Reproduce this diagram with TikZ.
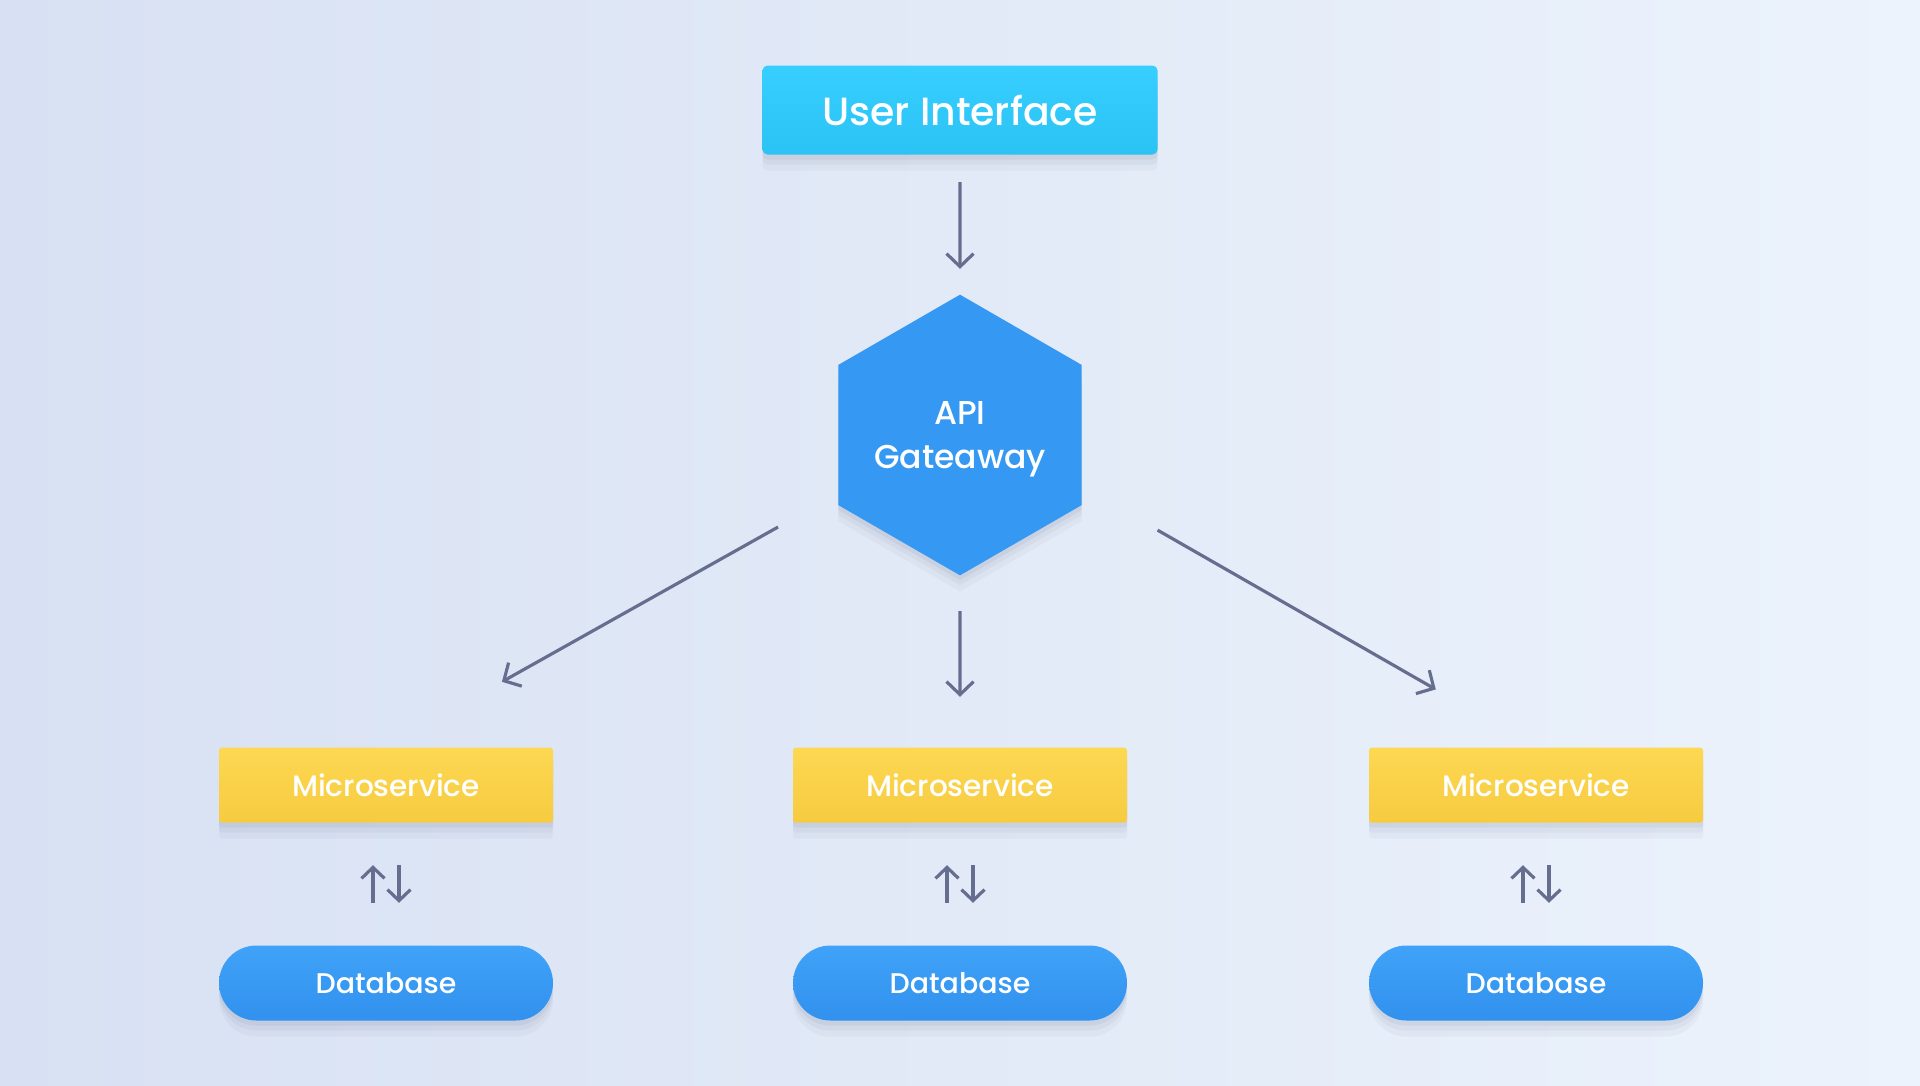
\documentclass[tikz,border=0pt]{standalone}
\usepackage{fontspec}
\setmainfont{Poppins}[UprightFont=* Medium]
\usepackage{xcolor}
\usetikzlibrary{positioning, arrows.meta, shapes.geometric, shadows, calc}

\definecolor{bgleft}{HTML}{D8E1F3}
\definecolor{bgright}{HTML}{ECF3FC}
\definecolor{uitop}{HTML}{36CFFF}
\definecolor{uibottom}{HTML}{2BC2F4}
\definecolor{hexblue}{HTML}{3598F2}
\definecolor{mstop}{HTML}{FDD852}
\definecolor{msbottom}{HTML}{F6CB40}
\definecolor{dbtop}{HTML}{40A2F8}
\definecolor{dbbottom}{HTML}{3191EE}
\definecolor{linkgray}{HTML}{666E8F}
\definecolor{shadowgray}{HTML}{5A6480}

\begin{document}
\begin{tikzpicture}[>={Straight Barb[length=1.3mm, width=2.7mm]}, node distance=3.25cm]
    \tikzstyle{softshadow}=[general shadow={fill=shadowgray, opacity=0.05, shadow yshift=-0.16cm},
                            general shadow={fill=shadowgray, opacity=0.06, shadow yshift=-0.1cm},
                            general shadow={fill=shadowgray, opacity=0.08, shadow yshift=-0.05cm}]
    \tikzstyle{uibox}=[rectangle, softshadow, rounded corners=0.05cm, minimum width=3.95cm, minimum height=0.89cm,
                       top color=uitop, bottom color=uibottom, text=white, font=\fontsize{11.2}{14}\selectfont]
    \tikzstyle{hexnode}=[regular polygon, regular polygon sides=6, regular polygon rotate=30, softshadow,
                         minimum size=2.74cm, inner sep=0pt, text depth=0pt,
                         fill=hexblue, text=white, align=center, font=\fontsize{9.4}{12.4}\selectfont]
    \tikzstyle{msbox}=[rectangle, softshadow, rounded corners=0.03cm, minimum width=3.34cm, minimum height=0.75cm,
                       top color=mstop, bottom color=msbottom, text=white, font=\fontsize{8.4}{11}\selectfont]
    \tikzstyle{dbbox}=[rectangle, softshadow, rounded corners=0.375cm, minimum width=3.34cm, minimum height=0.75cm,
                       top color=dbtop, bottom color=dbbottom, text=white, font=\fontsize{8.1}{11}\selectfont]
    \tikzstyle{link}=[->, draw=linkgray, line width=0.9pt]
    \tikzstyle{pair}=[link, >={Straight Barb[length=1.1mm, width=2.3mm]}, shorten <=0.42cm, shorten >=0.42cm]

    % background
    \shade[left color=bgleft, right color=bgright] (0,0) rectangle (19.2,-10.85);
    \useasboundingbox (0,0) rectangle (19.2,-10.85);

    \node[uibox] (ui) at (9.6,-1.1) {User Interface};
    \node[hexnode, below of=ui] (api) {API\\Gateaway};
    \node[msbox, below of=api, node distance=3.5cm] (ms2) {Microservice};
    \node[msbox, left of=ms2, node distance=5.74cm] (ms1) {Microservice};
    \node[msbox, right of=ms2, node distance=5.76cm] (ms3) {Microservice};
    \node[dbbox, below of=ms1, node distance=1.98cm] (db1) {Database};
    \node[dbbox, below of=ms2, node distance=1.98cm] (db2) {Database};
    \node[dbbox, below of=ms3, node distance=1.98cm] (db3) {Database};

    \draw[link, shorten <=0.27cm, shorten >=0.25cm] (ui) -- (api);
    \draw[link, shorten <=0.35cm, shorten >=0.5cm] (api) -- (ms2);
    \draw[link] ($([yshift=0.1cm]api.center)!0.317!(ms1.north)$) -- ($([yshift=0.1cm]api.center)!0.798!(ms1.north)$);
    \draw[link] ($([yshift=0.18cm]api.center)!0.343!(ms3.north)$) -- ($([yshift=0.18cm]api.center)!0.826!(ms3.north)$);

    \draw[pair] ([xshift=-0.13cm]db1.north) -- ([xshift=-0.13cm]ms1.south);
    \draw[pair] ([xshift=0.13cm]ms1.south) -- ([xshift=0.13cm]db1.north);
    \draw[pair] ([xshift=-0.13cm]db2.north) -- ([xshift=-0.13cm]ms2.south);
    \draw[pair] ([xshift=0.13cm]ms2.south) -- ([xshift=0.13cm]db2.north);
    \draw[pair] ([xshift=-0.13cm]db3.north) -- ([xshift=-0.13cm]ms3.south);
    \draw[pair] ([xshift=0.13cm]ms3.south) -- ([xshift=0.13cm]db3.north);
\end{tikzpicture}
\end{document}
